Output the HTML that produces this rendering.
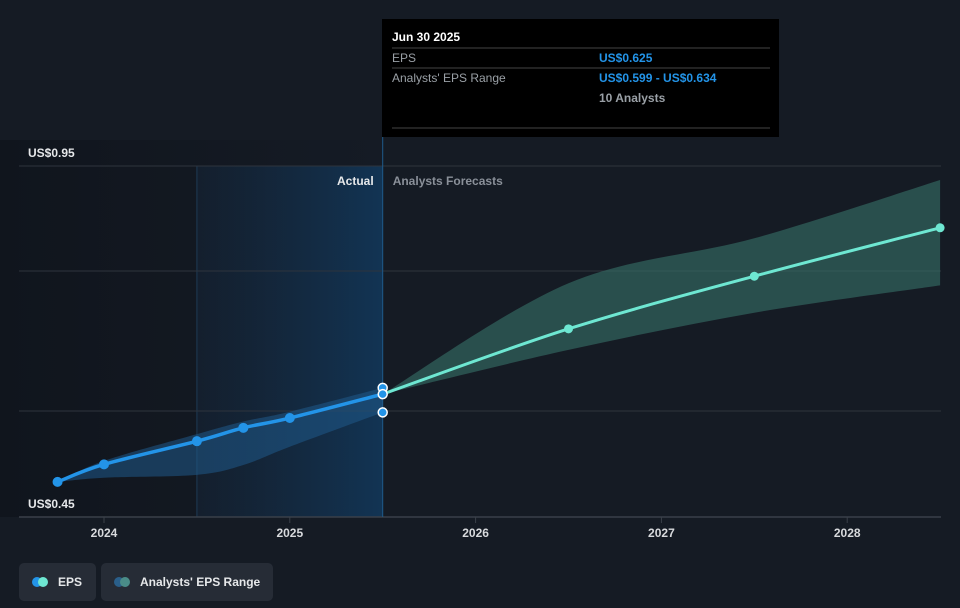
<!DOCTYPE html>
<html><head><meta charset="utf-8"><style>
body{margin:0;background:#151b24;font-family:"Liberation Sans",sans-serif;}
svg text{font-family:"Liberation Sans",sans-serif;}
.leg{position:absolute;top:563px;height:38px;background:#262c36;border-radius:5px;color:#e6e8ea;font-size:12px;font-weight:bold;display:flex;align-items:center;}
</style></head><body>
<svg width="960" height="608" style="position:absolute;left:0;top:0">
<defs>
<linearGradient id="pastbg" x1="0" x2="1"><stop offset="0" stop-color="#10151d"/><stop offset="1" stop-color="#151b25"/></linearGradient>
<linearGradient id="hl" x1="0" x2="1"><stop offset="0" stop-color="#14263a" stop-opacity="0.5"/><stop offset="1" stop-color="#123454"/></linearGradient>
</defs>
<g id="chart"></g>
</svg>
<div class="leg" style="left:19px;width:77px">
<span style="margin-left:13px;width:10px;height:10px;border-radius:5px;background:#2394e8;display:inline-block"></span><span style="margin-left:-4px;width:10px;height:10px;border-radius:5px;background:#6ee7d2;display:inline-block"></span><span style="margin-left:10px">EPS</span></div>
<div class="leg" style="left:101px;width:172px">
<span style="margin-left:13px;width:10px;height:10px;border-radius:5px;background:#2a5f8a;display:inline-block"></span><span style="margin-left:-4px;width:10px;height:10px;border-radius:5px;background:#4a8c88;display:inline-block"></span><span style="margin-left:10px">Analysts' EPS Range</span></div>
<script>
const pastX=[2023.75,2024,2024.5,2024.75,2025,2025.5];
const pastEPS=[0.50,0.525,0.558,0.577,0.591,0.625];
const pastLow=[0.50,0.506,0.51,0.524,0.55,0.599];
const pastHigh=[0.50,0.53,0.568,0.586,0.60,0.634];
const futX=[2025.5,2026.5,2027.5,2028.5];
const futEPS=[0.625,0.718,0.793,0.862];
const futLow=[0.625,0.688,0.741,0.780];
const futHigh=[0.625,0.783,0.847,0.930];
const yearTicks=[2024,2025,2026,2027,2028];
const NS='http://www.w3.org/2000/svg';
const X=t=>104+(t-2024)*185.8;
const Y=v=>517-(v-0.45)*702;
const g=document.getElementById('chart');
function el(tag,a,txt){const e=document.createElementNS(NS,tag);for(const k in a)e.setAttribute(k,a[k]);if(txt!=null)e.textContent=txt;g.appendChild(e);return e;}
function pts(xs,ys){return xs.map((x,i)=>[X(x),Y(ys[i])]);}
function curve(p,move=true){let d=move?`M${p[0][0]},${p[0][1]}`:`L${p[0][0]},${p[0][1]}`;for(let i=0;i<p.length-1;i++){const p0=p[i-1]||p[i],p1=p[i],p2=p[i+1],p3=p[i+2]||p2;d+=` C${p1[0]+(p2[0]-p0[0])/6},${p1[1]+(p2[1]-p0[1])/6} ${p2[0]-(p3[0]-p1[0])/6},${p2[1]-(p3[1]-p1[1])/6} ${p2[0]},${p2[1]}`;}return d;}
const xNow=X(2025.5);
let e;
e=el('rect',{x:0,y:140,width:xNow,height:377,fill:'url(#pastbg)'});

e=el('rect',{x:X(2024.5),y:166,width:xNow-X(2024.5),height:351,fill:'url(#hl)'});

el('line',{x1:X(2024.5),x2:X(2024.5),y1:166,y2:517,stroke:'#1d3a55','stroke-width':1});
[166,271,411].forEach(y=>{e=el('line',{x1:19,x2:941,y1:y,y2:y,stroke:'#2e343d','stroke-width':1});});
e=el('line',{x1:19,x2:941,y1:517,y2:517,stroke:'#3a4049','stroke-width':1.5});

yearTicks.forEach(t=>{el('line',{x1:X(t),x2:X(t),y1:517,y2:523,stroke:'#3a4049'});e=el('text',{x:X(t),y:537,fill:'#d8dadd','font-size':12,'font-weight':'bold','text-anchor':'middle'},t);});
e=el('text',{x:28,y:157,fill:'#e6e8ea','font-size':12,'font-weight':'bold'},'US$0.95');
e=el('text',{x:28,y:508,fill:'#e6e8ea','font-size':12,'font-weight':'bold'},'US$0.45');
const ph=pts(pastX,pastHigh),pl=pts(pastX,pastLow).reverse();
e=el('path',{d:curve(ph)+' '+curve(pl,false)+'Z',fill:'#1f5a8a','fill-opacity':0.55});

const fh=pts(futX,futHigh),fl=pts(futX,futLow).reverse();
e=el('path',{d:curve(fh)+' '+curve(fl,false)+'Z',fill:'#3a7a70','fill-opacity':0.55});

e=el('line',{x1:xNow,x2:xNow,y1:137,y2:517,stroke:'#1f5a8a','stroke-width':1});

e=el('text',{x:xNow-9,y:185,fill:'#e6e8ea','font-size':12,'font-weight':'bold','text-anchor':'end'},'Actual');
e=el('text',{x:xNow+10,y:185,fill:'#8a9099','font-size':12,'font-weight':'bold'},'Analysts Forecasts');
e=el('path',{d:curve(pts(futX,futEPS)),fill:'none',stroke:'#6ee7d2','stroke-width':3});
e=el('path',{d:curve(pts(pastX,pastEPS)),fill:'none',stroke:'#2394e8','stroke-width':3.5});
futX.slice(1).forEach((x,i)=>{e=el('circle',{cx:X(x),cy:Y(futEPS[i+1]),r:4.5,fill:'#6ee7d2'});});
pastX.slice(0,-1).forEach((x,i)=>{e=el('circle',{cx:X(x),cy:Y(pastEPS[i]),r:5,fill:'#2394e8'});});
[pastHigh[5],pastEPS[5],pastLow[5]].forEach(v=>{e=el('circle',{cx:xNow,cy:Y(v),r:4.5,fill:'#2394e8',stroke:'#fff','stroke-width':1.5});});
e=el('rect',{x:382,y:19,width:397,height:118,fill:'#000'});
el('text',{x:392,y:41,fill:'#fff','font-size':12,'font-weight':'bold'},'Jun 30 2025');
[48,68,128].forEach(y=>el('line',{x1:392,x2:770,y1:y,y2:y,stroke:'#444','stroke-width':1}));
el('text',{x:392,y:62,fill:'#9aa0a6','font-size':12},'EPS');
el('text',{x:599,y:62,fill:'#2394e8','font-size':12,'font-weight':'bold'},'US$0.625');
el('text',{x:392,y:82,fill:'#9aa0a6','font-size':12},"Analysts' EPS Range");
el('text',{x:599,y:82,fill:'#2394e8','font-size':12,'font-weight':'bold'},'US$0.599 - US$0.634');
el('text',{x:599,y:102,fill:'#9aa0a6','font-size':12,'font-weight':'bold'},'10 Analysts');
</script>
</body></html>
